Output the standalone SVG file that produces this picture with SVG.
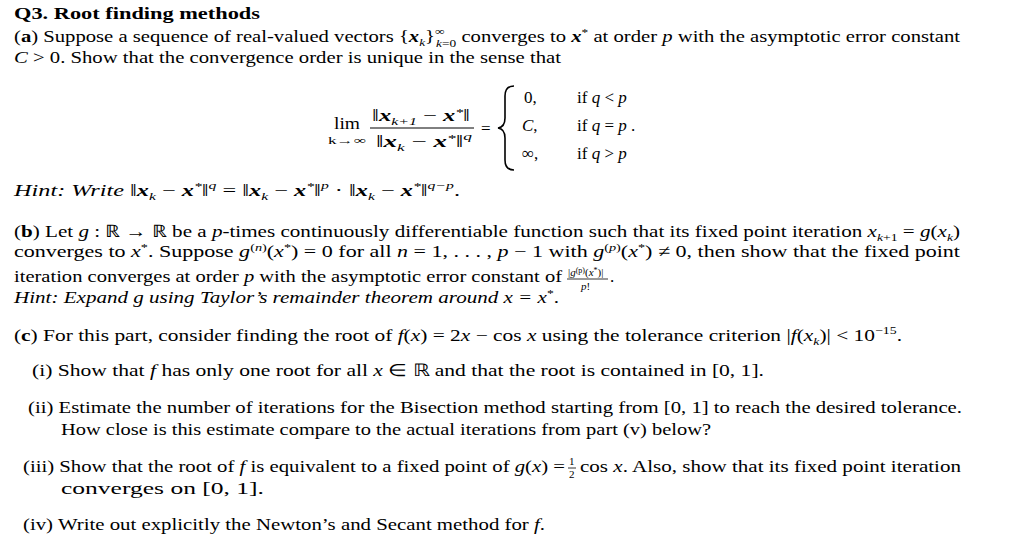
<svg xmlns="http://www.w3.org/2000/svg" width="1024" height="548" viewBox="0 0 1024 548">
<style>
text{font-family:"Liberation Serif","Times New Roman",serif;font-size:17px;fill:#000}
.b{font-weight:bold}
.i{font-style:italic}
.bi{font-weight:bold;font-style:italic}
.s{font-size:11px}
.t{font-size:11px}
</style>
<rect width="1024" height="548" fill="#fff"/>
<g id="title"><text x="14" y="19" class="b" font-size="18" textLength="246" lengthAdjust="spacingAndGlyphs">Q3. Root finding methods</text></g>
<g id="partA">
<text x="14" y="42" textLength="946" lengthAdjust="spacingAndGlyphs">(<tspan class="b">a</tspan>) Suppose a sequence of real-valued vectors {<tspan class="bi">x</tspan><tspan class="i s" dy="4">k</tspan><tspan dy="-4">}</tspan><tspan class="s" dy="-7">∞</tspan><tspan class="i s" dx="-7" dy="12">k</tspan><tspan class="s">=0</tspan><tspan dy="-5"> converges to </tspan><tspan class="bi">x</tspan><tspan class="s" dy="-6">*</tspan><tspan dy="6"> at order </tspan><tspan class="i">p</tspan> with the asymptotic error constant</text>
<text x="14" y="63" textLength="547" lengthAdjust="spacingAndGlyphs"><tspan class="i">C</tspan> &gt; 0. Show that the convergence order is unique in the sense that</text>
</g>
<g id="equation">
<text x="334" y="129" textLength="26" lengthAdjust="spacingAndGlyphs">lim</text>
<text x="328" y="144" class="t" textLength="38" lengthAdjust="spacingAndGlyphs">k→∞</text>
<text x="372" y="121" class="i" textLength="98" lengthAdjust="spacingAndGlyphs">‖<tspan class="b">x</tspan><tspan class="s" dy="4">k+1</tspan><tspan dy="-4" font-style="normal"> − </tspan><tspan class="b">x</tspan><tspan dy="-5" class="s">*</tspan><tspan dy="5">‖</tspan></text>
<line x1="370" y1="128" x2="474" y2="128" stroke="#000" stroke-width="1"/>
<text x="376" y="147" class="i" textLength="96" lengthAdjust="spacingAndGlyphs">‖<tspan class="b">x</tspan><tspan class="s" dy="4">k</tspan><tspan dy="-4" font-style="normal"> − </tspan><tspan class="b">x</tspan><tspan dy="-5" class="s">*</tspan><tspan dy="5">‖</tspan><tspan dy="-7" class="s">q</tspan></text>
<text x="481" y="134">=</text>
<path d="M514 86 Q505 86 505 96 L505 118 Q505 127 498 128 Q505 129 505 138 L505 160 Q505 170 514 170" fill="none" stroke="#000" stroke-width="1.6"/>
<text x="524" y="103">0,</text>
<text x="522" y="131"><tspan class="i">C</tspan>,</text>
<text x="522" y="159">∞,</text>
<text x="577" y="103">if <tspan class="i">q</tspan> &lt; <tspan class="i">p</tspan></text>
<text x="577" y="131">if <tspan class="i">q</tspan> = <tspan class="i">p</tspan> .</text>
<text x="577" y="159">if <tspan class="i">q</tspan> &gt; <tspan class="i">p</tspan></text>
</g>
<g id="hintA"><text x="14" y="196" class="i" textLength="446" lengthAdjust="spacingAndGlyphs">Hint: Write ‖<tspan class="b">x</tspan><tspan class="s" dy="4">k</tspan><tspan dy="-4" font-style="normal"> − </tspan><tspan class="b">x</tspan><tspan class="s" dy="-6">*</tspan><tspan dy="6">‖</tspan><tspan class="s" dy="-7">q</tspan><tspan dy="7" font-style="normal"> = </tspan>‖<tspan class="b">x</tspan><tspan class="s" dy="4">k</tspan><tspan dy="-4" font-style="normal"> − </tspan><tspan class="b">x</tspan><tspan class="s" dy="-6">*</tspan><tspan dy="6">‖</tspan><tspan class="s" dy="-7">p</tspan><tspan dy="7" font-style="normal"> · </tspan>‖<tspan class="b">x</tspan><tspan class="s" dy="4">k</tspan><tspan dy="-4" font-style="normal"> − </tspan><tspan class="b">x</tspan><tspan class="s" dy="-6">*</tspan><tspan dy="6">‖</tspan><tspan class="s" dy="-7">q−p</tspan><tspan dy="7" font-style="normal">.</tspan></text></g>
<g id="partB">
<text x="14" y="237" textLength="946" lengthAdjust="spacingAndGlyphs">(<tspan class="b">b</tspan>) Let <tspan class="i">g</tspan> : ℝ → ℝ be a <tspan class="i">p</tspan>-times continuously differentiable function such that its fixed point iteration <tspan class="i">x</tspan><tspan class="i s" dy="4">k</tspan><tspan class="s">+1</tspan><tspan dy="-4"> = </tspan><tspan class="i">g</tspan>(<tspan class="i">x</tspan><tspan class="i s" dy="4">k</tspan><tspan dy="-4">)</tspan></text>
<text x="14" y="257" textLength="946" lengthAdjust="spacingAndGlyphs">converges to <tspan class="i">x</tspan><tspan class="s" dy="-6">*</tspan><tspan dy="6">.  Suppose </tspan><tspan class="i">g</tspan><tspan class="s" dy="-6">(<tspan class="i">n</tspan>)</tspan><tspan dy="6">(</tspan><tspan class="i">x</tspan><tspan class="s" dy="-6">*</tspan><tspan dy="6">) = 0 for all </tspan><tspan class="i">n</tspan> = 1, . . . , <tspan class="i">p</tspan> − 1 with <tspan class="i">g</tspan><tspan class="s" dy="-6">(<tspan class="i">p</tspan>)</tspan><tspan dy="6">(</tspan><tspan class="i">x</tspan><tspan class="s" dy="-6">*</tspan><tspan dy="6">) ≠ 0, then show that the fixed point</tspan></text>
<text x="14" y="282" textLength="548" lengthAdjust="spacingAndGlyphs">iteration converges at order <tspan class="i">p</tspan> with the asymptotic error constant of</text>
<text x="568" y="276" class="s">|<tspan class="i">g</tspan><tspan font-size="8" dy="-3">(p)</tspan><tspan dy="3">(</tspan><tspan class="i">x</tspan><tspan font-size="8" dy="-3">*</tspan><tspan dy="3">)|</tspan></text>
<line x1="567" y1="279" x2="608" y2="279" stroke="#000" stroke-width="0.8"/>
<text x="581" y="290" class="s"><tspan class="i">p</tspan>!</text>
<text x="610" y="282">.</text>
<text x="14" y="303" class="i" textLength="545" lengthAdjust="spacingAndGlyphs">Hint: Expand g using Taylor’s remainder theorem around x = x<tspan class="s" dy="-6" font-style="normal">*</tspan><tspan dy="6" font-style="normal">.</tspan></text>
</g>
<g id="partC">
<text x="14" y="341" textLength="888" lengthAdjust="spacingAndGlyphs">(<tspan class="b">c</tspan>) For this part, consider finding the root of <tspan class="i">f</tspan>(<tspan class="i">x</tspan>) = 2<tspan class="i">x</tspan> − cos <tspan class="i">x</tspan> using the tolerance criterion |<tspan class="i">f</tspan>(<tspan class="i">x</tspan><tspan class="i s" dy="4">k</tspan><tspan dy="-4">)| &lt; 10</tspan><tspan class="s" dy="-7">−15</tspan><tspan dy="7">.</tspan></text>
<text x="32" y="376" textLength="732" lengthAdjust="spacingAndGlyphs">(i) Show that <tspan class="i">f</tspan> has only one root for all <tspan class="i">x</tspan> ∈ ℝ and that the root is contained in [0, 1].</text>
<text x="28" y="413" textLength="934" lengthAdjust="spacingAndGlyphs">(ii) Estimate the number of iterations for the Bisection method starting from [0, 1] to reach the desired tolerance.</text>
<text x="61" y="435" textLength="650" lengthAdjust="spacingAndGlyphs">How close is this estimate compare to the actual iterations from part (v) below?</text>
<text x="23" y="472" textLength="542" lengthAdjust="spacingAndGlyphs">(iii) Show that the root of <tspan class="i">f</tspan> is equivalent to a fixed point of <tspan class="i">g</tspan>(<tspan class="i">x</tspan>) =</text>
<text x="569" y="465" class="s">1</text>
<line x1="568" y1="468" x2="576" y2="468" stroke="#000" stroke-width="0.8"/>
<text x="569" y="478" class="s">2</text>
<text x="580" y="472" textLength="381" lengthAdjust="spacingAndGlyphs">cos <tspan class="i">x</tspan>. Also, show that its fixed point iteration</text>
<text x="61" y="494" textLength="203" lengthAdjust="spacingAndGlyphs">converges on [0, 1].</text>
<text x="23" y="530" textLength="522" lengthAdjust="spacingAndGlyphs">(iv) Write out explicitly the Newton’s and Secant method for <tspan class="i">f</tspan>.</text>
</g>
</svg>
